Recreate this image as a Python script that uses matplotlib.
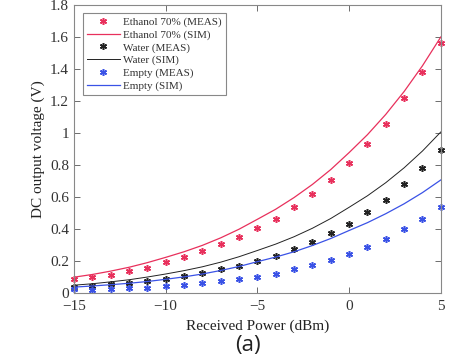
import matplotlib
matplotlib.use("Agg")
import matplotlib.pyplot as plt
from matplotlib.ticker import FuncFormatter

# received power (dBm)
power = list(range(-15, 6))

# measured DC output voltage (V)
ethanol_meas = [0.086, 0.098, 0.113, 0.138, 0.158, 0.190, 0.223, 0.260, 0.308, 0.352, 0.404,
                0.462, 0.537, 0.620, 0.708, 0.815, 0.931, 1.058, 1.220, 1.382, 1.562]
water_meas = [0.036, 0.044, 0.054, 0.063, 0.075, 0.088, 0.104, 0.125, 0.148, 0.171, 0.200,
              0.233, 0.273, 0.321, 0.373, 0.432, 0.506, 0.579, 0.681, 0.779, 0.894]
empty_meas = [0.023, 0.019, 0.023, 0.029, 0.033, 0.044, 0.050, 0.060, 0.075, 0.088, 0.102,
              0.121, 0.148, 0.175, 0.206, 0.244, 0.285, 0.335, 0.398, 0.464, 0.538]

# simulated curves (V)
ethanol_sim = [0.098, 0.115, 0.136, 0.160, 0.189, 0.222, 0.257, 0.297, 0.344, 0.398, 0.460,
               0.523, 0.596, 0.678, 0.771, 0.877, 0.989, 1.116, 1.259, 1.420, 1.600]
water_sim = [0.048, 0.057, 0.069, 0.082, 0.099, 0.118, 0.139, 0.163, 0.192, 0.226, 0.265,
             0.305, 0.351, 0.404, 0.465, 0.535, 0.607, 0.689, 0.782, 0.887, 1.006]
empty_sim = [0.036, 0.043, 0.051, 0.060, 0.071, 0.085, 0.100, 0.118, 0.140, 0.165, 0.195,
             0.224, 0.257, 0.296, 0.340, 0.390, 0.439, 0.495, 0.557, 0.627, 0.706]

red = "#e8305c"
blue = "#3a52e6"
black = "#222222"

plt.rcParams["font.family"] = ["Liberation Serif", "DejaVu Serif"]

fig = plt.figure(figsize=(4.74, 3.55), dpi=100)
ax = fig.add_axes([0.156, 0.175, 0.774, 0.811])

star = (6, 2, 0)
mk = dict(linestyle="none", marker=star, markersize=5, markeredgewidth=1.1, clip_on=False)

ax.plot(power, ethanol_meas, color=red, label="Ethanol 70% (MEAS)", **mk)
ax.plot(power, ethanol_sim, color=red, linewidth=0.9, label="Ethanol 70% (SIM)")
ax.plot(power, water_meas, color=black, label="Water (MEAS)", **mk)
ax.plot(power, water_sim, color=black, linewidth=0.7, label="Water (SIM)")
ax.plot(power, empty_meas, color=blue, label="Empty (MEAS)", **mk)
ax.plot(power, empty_sim, color=blue, linewidth=0.9, label="Empty (SIM)")

ax.set_xlim(-15, 5)
ax.set_ylim(0, 1.8)
ax.set_xticks([-15, -10, -5, 0, 5])
ax.set_yticks([0, 0.2, 0.4, 0.6, 0.8, 1.0, 1.2, 1.4, 1.6, 1.8])
ax.xaxis.set_major_formatter(FuncFormatter(lambda v, p: f"{v:g}".replace("-", "\u2212")))
ax.yaxis.set_major_formatter(FuncFormatter(lambda v, p: f"{v:g}"))
ax.tick_params(direction="in", top=True, right=True, length=4, width=0.6,
               color="#555555", labelsize=11, labelcolor="#333333")
ax.tick_params(axis="x", pad=5)
for s in ax.spines.values():
    s.set_color("#888888")
    s.set_linewidth(0.8)

ax.set_xlabel("Received Power (dBm)", fontsize=11, color="#222222", labelpad=5)
ax.set_ylabel("DC output voltage (V)", fontsize=11, color="#222222", labelpad=4)

leg = ax.legend(loc="upper left", bbox_to_anchor=(0.024, 0.972), borderaxespad=0,
                fontsize=8, fancybox=False, framealpha=1, edgecolor="#888888",
                handlelength=3.0, labelspacing=0.25, handletextpad=0.3, borderpad=0.35)
leg.get_frame().set_linewidth(0.8)
for t in leg.get_texts():
    t.set_color("#333333")

fig.text(0.523, 0.055, "(a)", ha="center", va="top", fontsize=16,
         family=["Open Sans", "DejaVu Sans"], color="#222222")

fig.savefig("out.png", dpi=100)
plt.close(fig)
